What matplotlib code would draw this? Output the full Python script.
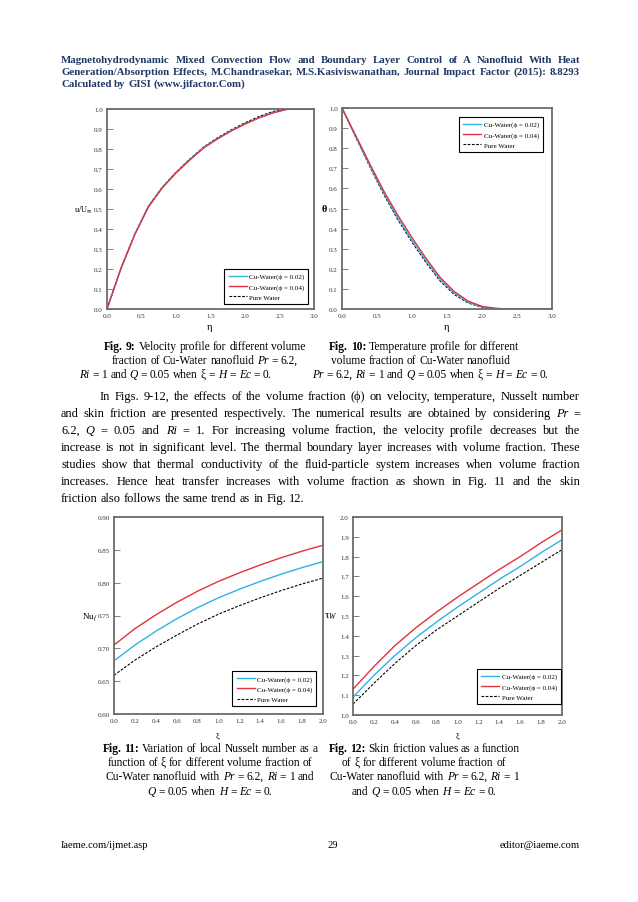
import matplotlib
matplotlib.use('Agg')
import matplotlib.pyplot as plt

plt.rcParams['font.family'] = ['Liberation Serif', 'DejaVu Serif']
plt.rcParams['mathtext.fontset'] = 'custom'
plt.rcParams['mathtext.rm'] = 'Liberation Serif'
plt.rcParams['mathtext.it'] = 'Liberation Serif:italic'

W, H = 638, 903

# Fig. 9 velocity profile
eta = [0.0, 0.2, 0.4, 0.6, 0.8, 1.0, 1.2, 1.4, 1.6, 1.8, 2.0, 2.2, 2.4, 2.6, 2.8, 3.0]
u_cu02 = [0.0, 0.201, 0.372, 0.512, 0.607, 0.682, 0.747, 0.807, 0.852, 0.892, 0.926, 0.956, 0.981, 0.998, 1.0, 1.0]
u_cu04 = [0.0, 0.200, 0.370, 0.510, 0.605, 0.680, 0.745, 0.805, 0.850, 0.890, 0.925, 0.955, 0.980, 0.998, 1.0, 1.0]
u_water = [0.0, 0.202, 0.373, 0.514, 0.609, 0.684, 0.750, 0.810, 0.856, 0.896, 0.931, 0.962, 0.987, 1.0, 1.0, 1.0]

# Fig. 10 temperature profile
theta_cu02 = [1.0, 0.855, 0.712, 0.575, 0.452, 0.341, 0.240, 0.148, 0.080, 0.034, 0.010, 0.002, 0.0, 0.0, 0.0, 0.0]
theta_cu04 = [1.0, 0.860, 0.720, 0.585, 0.465, 0.355, 0.252, 0.158, 0.088, 0.040, 0.013, 0.003, 0.0, 0.0, 0.0, 0.0]
theta_water = [1.0, 0.852, 0.706, 0.567, 0.443, 0.332, 0.231, 0.140, 0.073, 0.030, 0.008, 0.001, 0.0, 0.0, 0.0, 0.0]

# Fig. 11 / 12 vs xi
xi = [0.0, 0.2, 0.4, 0.6, 0.8, 1.0, 1.2, 1.4, 1.6, 1.8, 2.0]
nu_cu02 = [0.681, 0.705, 0.726, 0.745, 0.762, 0.777, 0.790, 0.802, 0.813, 0.823, 0.832]
nu_cu04 = [0.705, 0.730, 0.751, 0.770, 0.787, 0.802, 0.815, 0.827, 0.838, 0.848, 0.857]
nu_water = [0.659, 0.682, 0.702, 0.720, 0.737, 0.752, 0.765, 0.777, 0.788, 0.798, 0.807]

tau_cu02 = [1.090, 1.200, 1.300, 1.390, 1.470, 1.545, 1.615, 1.685, 1.750, 1.820, 1.885]
tau_cu04 = [1.130, 1.245, 1.350, 1.440, 1.520, 1.595, 1.665, 1.735, 1.800, 1.870, 1.935]
tau_water = [1.055, 1.160, 1.260, 1.350, 1.430, 1.500, 1.570, 1.640, 1.705, 1.770, 1.835]

series_labels = ['Cu-Water(ϕ = 0.02)', 'Cu-Water(ϕ = 0.04)', 'Pure Water']
eta_ticks = [0.0, 0.5, 1.0, 1.5, 2.0, 2.5, 3.0]
unit_ticks = [0.0, 0.1, 0.2, 0.3, 0.4, 0.5, 0.6, 0.7, 0.8, 0.9, 1.0]
xi_ticks = [0.0, 0.2, 0.4, 0.6, 0.8, 1.0, 1.2, 1.4, 1.6, 1.8, 2.0]
nu_ticks = [0.60, 0.65, 0.70, 0.75, 0.80, 0.85, 0.90]
tau_ticks = [1.0, 1.1, 1.2, 1.3, 1.4, 1.5, 1.6, 1.7, 1.8, 1.9, 2.0]

header = [
    'Magnetohydrodynamic Mixed Convection Flow and Boundary Layer Control of A Nanofluid With Heat',
    'Generation/Absorption Effects, M.Chandrasekar, M.S.Kasiviswanathan, Journal Impact Factor (2015): 8.8293',
    'Calculated by GISI (www.jifactor.Com)',
]
paragraph = [
    'In Figs. 9-12, the effects of the volume fraction (ϕ) on velocity, temperature, Nusselt number',
    'and skin friction are presented respectively. The numerical results are obtained by considering ~Pr~ =',
    '6.2, ~Q~ = 0.05 and ~Ri~ = 1. For increasing volume fraction, the velocity profile decreases but the',
    'increase is not in significant level. The thermal boundary layer increases with volume fraction. These',
    'studies show that thermal conductivity of the fluid-particle system increases when volume fraction',
    'increases. Hence heat transfer increases with volume fraction as shown in Fig. 11 and the skin',
    'friction also follows the same trend as in Fig. 12.',
]
cap9 = ['#Fig.# #9:# Velocity profile for different volume',
        'fraction of Cu-Water nanofluid ~Pr~ = 6.2,',
        '~Ri~ = 1 and ~Q~ = 0.05 when ξ = ~H~ = ~Ec~ = 0.']
cap10 = ['#Fig.# #10:# Temperature profile for different',
         'volume fraction of Cu-Water nanofluid',
         '~Pr~ = 6.2, ~Ri~ = 1 and ~Q~ = 0.05 when ξ = ~H~ = ~Ec~ = 0.']
cap11 = ['#Fig.# #11:# Variation of local Nusselt number as a',
         'function of ξ for different volume fraction of',
         'Cu-Water nanofluid with ~Pr~ = 6.2, ~Ri~ = 1 and',
         '~Q~ = 0.05 when ~H~ = ~Ec~ = 0.']
cap12 = ['#Fig.# #12:# Skin friction values as a function',
         'of ξ for different volume fraction of',
         'Cu-Water nanofluid with ~Pr~ = 6.2, ~Ri~ = 1',
         'and ~Q~ = 0.05 when ~H~ = ~Ec~ = 0.']

CYAN = '#2fb2e4'
RED = '#e2323d'
GRAY = '#6b6b6b'
NAVY = '#1f3864'

fig = plt.figure(figsize=(W / 100, H / 100), dpi=100)
renderer = fig.canvas.get_renderer()


def draw_line(y, line, x0, x1=None, align='left', size=8.0, color='black', weight='normal'):
    items = []
    for w in line.split():
        style, wt = 'normal', weight
        if w.startswith('~'):
            w, style = w.strip('~'), 'italic'
        if w.startswith('#'):
            w, wt = w.strip('#'), 'bold'
        items.append(fig.text(0, 1 - y / H, w, fontsize=size, style=style,
                              weight=wt, color=color, va='baseline'))
    widths = [t.get_window_extent(renderer).width for t in items]
    space = size * 100 / 72 * 0.25
    if align == 'justify':
        space = (x1 - x0 - sum(widths)) / (len(items) - 1)
    total = sum(widths) + space * (len(items) - 1)
    if align == 'center':
        x0 = x0 - total / 2
    x = x0
    for t, w in zip(items, widths):
        t.set_x(x / W)
        x += w + space


def chart(box, x, ys, xticks, yticks, fmt, legend_loc, anchor):
    l, t, r, b = box
    ax = fig.add_axes([l / W, 1 - b / H, (r - l) / W, (b - t) / H])
    hw = ax.plot(x, ys[2], color='black', lw=0.8, ls=(0, (2.4, 1.4)))[0]
    h2 = ax.plot(x, ys[0], color=CYAN, lw=1.0)[0]
    h4 = ax.plot(x, ys[1], color=RED, lw=1.0)[0]
    ax.set_xlim(xticks[0], xticks[-1])
    ax.set_ylim(yticks[0], yticks[-1])
    ax.set_xticks(xticks)
    ax.set_yticks(yticks)
    ax.set_xticklabels(['%.1f' % v for v in xticks])
    ax.set_yticklabels([fmt % v for v in yticks])
    ax.tick_params(axis='x', length=0, pad=3, labelsize=5, labelcolor='#333333')
    ax.tick_params(axis='y', direction='in', length=4, width=0.6, color=GRAY,
                   pad=3, labelsize=5, labelcolor='#333333')
    for s in ax.spines.values():
        s.set_color(GRAY)
        s.set_linewidth(1.3)
    leg = ax.legend([h2, h4, hw], series_labels, loc=legend_loc, bbox_to_anchor=anchor,
                    borderaxespad=0, fontsize=5, fancybox=False, framealpha=1,
                    edgecolor='black', handlelength=2.6, handletextpad=0.3,
                    borderpad=0.6, labelspacing=0.6)
    leg.get_frame().set_linewidth(0.8)
    return ax


chart((107, 110, 314, 310), eta, [u_cu02, u_cu04, u_water], eta_ticks, unit_ticks, '%.1f',
      'lower right', (0.972, 0.025))
chart((342, 109, 552, 310), eta, [theta_cu02, theta_cu04, theta_water], eta_ticks, unit_ticks, '%.1f',
      'upper right', (0.957, 0.955))
chart((114, 518, 323, 715), xi, [nu_cu02, nu_cu04, nu_water], xi_ticks, nu_ticks, '%.2f',
      'lower right', (0.967, 0.04))
chart((353, 518, 562, 716), xi, [tau_cu02, tau_cu04, tau_water], xi_ticks, tau_ticks, '%.1f',
      'lower right', (0.995, 0.056))


def ptext(x, y, s, **kw):
    fig.text(x / W, 1 - y / H, s, **kw)


# axis titles
ptext(93, 210, r'u/U$_\infty$', fontsize=6, ha='right', va='center')
ptext(324, 210, 'θ', fontsize=7.5, weight='bold', ha='center', va='center')
ptext(210, 327, 'η', fontsize=7.5, ha='center', va='center')
ptext(447, 327, 'η', fontsize=7.5, ha='center', va='center')
ptext(98, 617, r'Nu$_f$', fontsize=6.5, ha='right', va='center')
ptext(331, 617, r'τ$_{W}$', fontsize=8, ha='center', va='center')
ptext(218, 737, 'ξ', fontsize=6, ha='center', va='center')
ptext(457, 737, 'ξ', fontsize=6, ha='center', va='center')

# header
draw_line(63, header[0], 61, 580, 'justify', 7.8, NAVY, 'bold')
draw_line(75, header[1], 61, 580, 'justify', 7.8, NAVY, 'bold')
draw_line(87, header[2], 61, size=7.8, color=NAVY, weight='bold')

# captions
draw_line(350, cap9[0], 205, align='center', size=8.3)
draw_line(364, cap9[1], 205, align='center', size=8.3)
draw_line(378, cap9[2], 79, size=8.3)
draw_line(350, cap10[0], 424, align='center', size=8.3)
draw_line(364, cap10[1], 421, align='center', size=8.3)
draw_line(378, cap10[2], 430, align='center', size=8.3)

for i, yy in enumerate([752, 766, 780, 795]):
    draw_line(yy, cap11[i], 210, align='center', size=8.3)
    draw_line(yy, cap12[i], 424, align='center', size=8.3)

# body text
para_y = [400, 417, 434, 451, 468, 485, 502]
draw_line(para_y[0], paragraph[0], 100, 580, 'justify', 8.9)
for i in range(1, 6):
    draw_line(para_y[i], paragraph[i], 61, 580, 'justify', 8.9)
draw_line(para_y[6], paragraph[6], 61, size=8.9)

# footer
ptext(61, 848, 'Iaeme.com/ijmet.asp', fontsize=7.6, ha='left', va='baseline')
ptext(333, 848, '29', fontsize=7.6, ha='center', va='baseline')
ptext(580, 848, 'editor@iaeme.com', fontsize=7.6, ha='right', va='baseline')

fig.savefig('out.png', dpi=100)
